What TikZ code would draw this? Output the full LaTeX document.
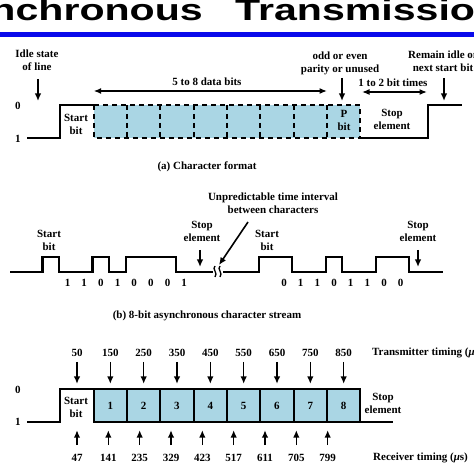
\documentclass[tikz,border=0pt]{standalone}
\usepackage{fontspec}
\setmainfont{Liberation Serif}
\newfontfamily\titlefont{Liberation Sans}
\usetikzlibrary{arrows.meta}
\definecolor{cellblue}{RGB}{170,214,228}
\definecolor{rulecolor}{RGB}{10,10,235}
\begin{document}
\begin{tikzpicture}[x=1pt,y=-1pt,
  lbl/.style={font=\fontsize{11}{13}\selectfont\bfseries, align=center, inner sep=0pt},
  ttl/.style={font=\titlefont\fontsize{30}{30}\selectfont\bfseries, inner sep=0pt},
  sig/.style={line width=2.2pt, line join=miter},
  darr/.style={line width=1.6pt, -{Latex[length=7.5pt,width=6.5pt]}},
  dbl/.style={line width=1.4pt, {Latex[length=7.5pt,width=6pt]}-{Latex[length=7.5pt,width=6pt]}},
  dsh/.style={line width=2.2pt, dash pattern=on 5pt off 4pt},
]
\useasboundingbox (0,0) rectangle (474,470);
\clip (0,0) rectangle (474,470);
\fill[white] (0,0) rectangle (474,470);

% ---------- title ----------
\node[ttl, anchor=base east] (t1) at (203,21) {\scalebox{1.37}[1]{Asynchronous}};
\node[ttl, anchor=base west] (t2) at (235,21) {\scalebox{1.37}[1]{Transmission}};
\fill[rulecolor] (0,32) rectangle (474,37);

% ---------- (a) character format ----------
\node[lbl] (idle) at (37,60) {Idle state\\of line};
\coordinate (idleA) at (38,79); \coordinate (idleB) at (38,101);
\draw[darr] (idleA) -- (idleB);
\node[lbl] (a0) at (18,106) {0};
\node[lbl] (a1) at (18,139) {1};

\fill[cellblue] (93.67,105) rectangle (360.33,138);
\draw[sig] (27,138) -- (60.33,138) -- (60.33,105) -- (93.67,105);
\draw[dsh] (93.67,105) rectangle (360.33,138);
\foreach \k in {1,...,7} \draw[dsh] ({93.67+33.33*\k},105) -- ({93.67+33.33*\k},138);
\draw[sig] (360.33,138) -- (428,138) -- (428,105) -- (462,105);

\node[lbl] (asb) at (76,124) {Start\\bit};
\node[lbl] (apb) at (344,120.5) {P\\bit};
\node[lbl] (ase) at (392,119.5) {Stop\\element};

\node[lbl] (dlab) at (207,82) {5 to 8 data bits};
\coordinate (dL) at (93.67,91); \coordinate (dR) at (327,91);
\draw[dbl] (dL) -- (dR);

\node[lbl] (par) at (340,63.5) {odd or even\\parity or unused};
\coordinate (parA) at (342,78); \coordinate (parB) at (342,101);
\draw[darr] (parA) -- (parB);

\node[lbl] (tlab) at (393,83) {1 to 2 bit times};
\coordinate (tL) at (362,92); \coordinate (tR) at (427,92);
\draw[dbl] (tL) -- (tR);

\node[lbl] (rem) at (443,61.5) {Remain idle or\\next start bit};
\coordinate (remA) at (444,78); \coordinate (remB) at (444,101);
\draw[darr] (remA) -- (remB);

\node[lbl] (capa) at (207,167) {(a) Character format};

% ---------- (b) character stream ----------
\node[lbl] (unp) at (273,203.5) {Unpredictable time interval\\between characters};
\coordinate (unA) at (248,222); \coordinate (unB) at (219,265);
\draw[darr] (unA) -- (unB);

\draw[sig] (10,272) -- (42.5,272) -- (42.5,257) -- (59.17,257) -- (59.17,272)
  -- (92.5,272) -- (92.5,257) -- (109.17,257) -- (109.17,272) -- (125.83,272)
  -- (125.83,257) -- (175.83,257) -- (175.83,272) -- (213,272);
\draw[sig] (223,272) -- (259,272) -- (259,257) -- (292.33,257) -- (292.33,272)
  -- (325.67,272) -- (325.67,257) -- (342.33,257) -- (342.33,272) -- (375.67,272)
  -- (375.67,257) -- (409,257) -- (409,272) -- (443,272);
\foreach \xc in {215,220}
  \draw[line width=1.3pt] (\xc,266) .. controls (\xc-3.5,269) and (\xc+3.5,273) .. (\xc,277);

\foreach \b [count=\i from 0] in {1,1,0,1,0,0,0,1}
  \node[lbl] (ba\i) at ({67.5+16.67*\i},283) {\b};
\foreach \b [count=\i from 0] in {0,1,1,0,1,1,0,0}
  \node[lbl] (bb\i) at ({284+16.67*\i},283) {\b};

\node[lbl] (bsb1) at (49,240) {Start\\bit};
\node[lbl] (bsb2) at (267,240) {Start\\bit};
\node[lbl] (bse1) at (202,231.5) {Stop\\element};
\coordinate (se1A) at (200,250); \coordinate (se1B) at (200,267);
\draw[darr] (se1A) -- (se1B);
\node[lbl] (bse2) at (418,231.5) {Stop\\element};
\coordinate (se2A) at (418,250); \coordinate (se2B) at (418,267);
\draw[darr] (se2A) -- (se2B);

\node[lbl] (capb) at (207,316) {(b) 8-bit asynchronous character stream};

% ---------- (c) timing ----------
\node[lbl] (c0) at (18,390) {0};
\node[lbl] (c1) at (18,422) {1};
\fill[cellblue] (93.67,389) rectangle (360.33,422);
\draw[sig] (27,422) -- (60.33,422) -- (60.33,389) -- (93.67,389);
\draw[sig] (93.67,389) rectangle (360.33,422);
\foreach \k in {1,...,7} \draw[sig] ({93.67+33.33*\k},389) -- ({93.67+33.33*\k},422);
\draw[sig] (360.33,422) -- (393,422);

\node[lbl] (csb) at (76,407) {Start\\bit};
\foreach \d in {1,...,8} \node[lbl] (cell\d) at ({60.33+33.33*\d+16.67},406) {\d};
\node[lbl] (cse) at (383,403.5) {Stop\\element};

\foreach \t [count=\i from 0] in {50,150,250,350,450,550,650,750,850} {
  \node[lbl] (tx\i) at ({77+(\t-50)/3},353) {\t};
  \draw[darr] ([yshift=-5pt]tx\i.south) -- ++(0,22);
}
\node[lbl, anchor=west] (txl) at (372,353) {Transmitter timing (\textit{μ}s)};

\foreach \t [count=\i from 0] in {47,141,235,329,423,517,611,705,799} {
  \node[lbl] (rx\i) at ({77+(\t-47)/3},458) {\t};
  \draw[darr] ([yshift=9pt]rx\i.north) -- ++(0,-15);
}
\node[lbl, anchor=west] (rxl) at (373,458) {Receiver timing (\textit{μ}s)};
\end{tikzpicture}
\end{document}
